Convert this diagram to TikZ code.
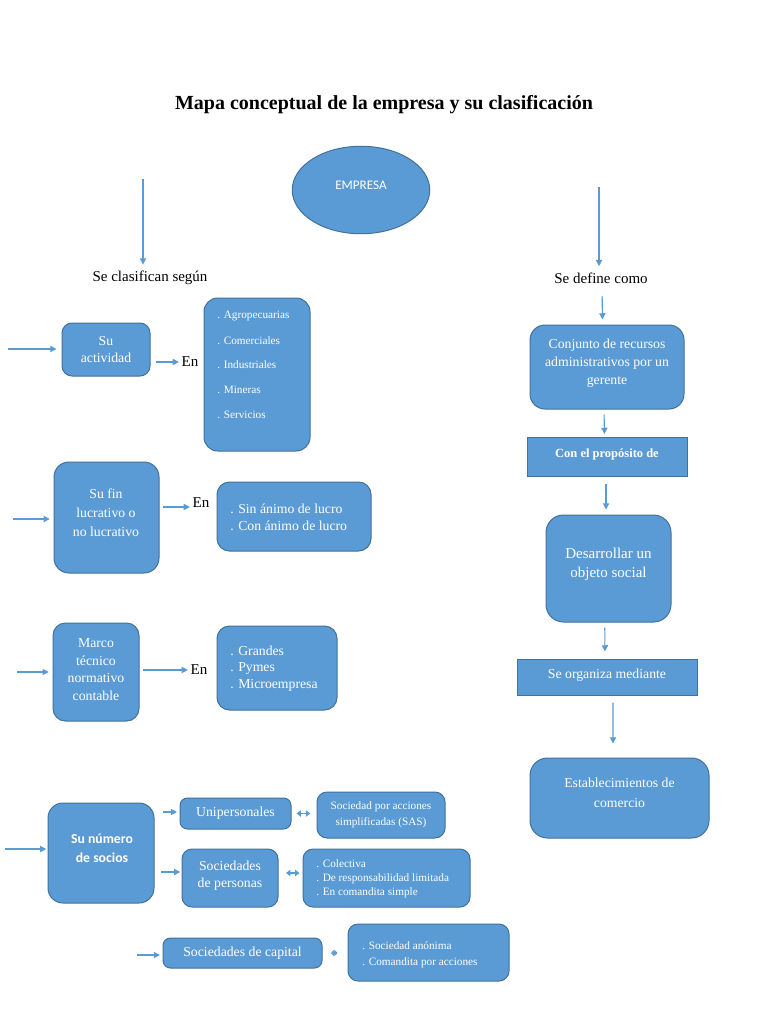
\documentclass[tikz,border=0pt]{standalone}
\usepackage{fontspec}
\setmainfont{Liberation Serif}
\newfontfamily\calfont{Carlito}
\usetikzlibrary{arrows.meta,fit,shapes.geometric}
\definecolor{boxc}{HTML}{5B9BD5}
\definecolor{bordc}{HTML}{41719C}
\definecolor{arrc}{HTML}{5B9BD5}
\begin{document}
\begin{tikzpicture}[x=0.8pt,y=-0.8pt,
 box/.style={draw=bordc, fill=boxc, line width=0.8pt, rounded corners=8pt, inner sep=0pt},
 sqbox/.style={draw=bordc, fill=boxc, line width=0.8pt, inner sep=0pt},
 arr/.style={draw=arrc, line width=0.9pt, -{Triangle[length=5pt,width=5pt]}},
 dbl/.style={draw=arrc, line width=1.4pt, {Triangle[length=3.5pt,width=5pt]}-{Triangle[length=3.5pt,width=5pt]}},
 wt/.style={text=white, inner sep=0pt, align=center},
 bt/.style={text=black, inner sep=0pt},
 f12/.style={font=\fontsize{12}{14}\selectfont},
]
\fill[white] (0,0) rectangle (768,1024);
\useasboundingbox (0,0) rectangle (768,1024);

% title
\node[font=\bfseries\fontsize{16}{19}\selectfont] (title) at (384,105) {Mapa conceptual de la empresa y su clasificación};

% EMPRESA
\node[ellipse, draw=bordc, fill=boxc, line width=0.8pt, minimum width=110pt, minimum height=70pt] (emp) at (361,190) {};
\node[wt, font=\calfont\fontsize{10.5}{12}\selectfont] (empt) at (361,185) {EMPRESA};

% top arrows and labels
\coordinate (l1) at (143,179);
\node[bt, f12] (clas) at (150,278) {Se clasifican según};
\draw[arr, shorten >=5pt] (l1) -- (l1 |- clas.north);
\coordinate (r1) at (599,187);
\node[bt, f12] (def) at (601,278) {Se define como};
\draw[arr, shorten >=5pt] (r1) -- (r1 |- def.north);

% ---------- Su actividad
\node[box, fit={(62,323)(150,376)}] (act) {};
\node[wt, font=\fontsize{11}{13.6}\selectfont] at (106,350) {Su\\actividad};
\coordinate (actin) at (8,349);
\draw[arr, shorten >=4pt] (actin) -- (actin -| act.west);
\node[bt, f12] (en1) at (190,362) {En};
\draw[arr, shorten <=4pt, shorten >=2pt] (act.east |- en1) -- (en1.west);
\node[box, rounded corners=11pt, fit={(204,298)(310,451)}] (lst) {};
\foreach \t/\y in {Agropecuarias/316, Comerciales/341, Industriales/365, Mineras/390, Servicios/415}
  \node[wt, anchor=west, font=\fontsize{9}{11}\selectfont] at (217,\y) {. \t};

% ---------- Su fin lucrativo
\node[box, rounded corners=12pt, fit={(54,462)(159,573)}] (fin) {};
\node[wt, font=\fontsize{11}{15.2}\selectfont] at (106,513) {Su fin\\lucrativo o\\no lucrativo};
\coordinate (finin) at (13,519);
\draw[arr, shorten >=3pt] (finin) -- (finin -| fin.west);
\node[bt, f12] (en2) at (201,503) {En};
\coordinate (finout) at (163,507);
\draw[arr, shorten >=2pt] (finout) -- (finout -| en2.west);
\node[box, rounded corners=10pt, fit={(217,482)(371,551)}] (lucro) {};
\node[wt, anchor=west, align=left, font=\fontsize{11}{13.6}\selectfont] at (230,517.5) {. Sin ánimo de lucro\\. Con ánimo de lucro};

% ---------- Marco
\node[box, rounded corners=10pt, fit={(53,623)(139,721)}] (marco) {};
\node[wt, font=\fontsize{11}{14}\selectfont] at (96,669.5) {Marco\\técnico\\normativo\\contable};
\coordinate (marin) at (17,672);
\draw[arr, shorten >=3pt] (marin) -- (marin -| marco.west);
\node[bt, f12] (en3) at (199,670) {En};
\draw[arr, shorten <=3pt, shorten >=2pt] (marco.east |- en3) -- (en3.west);
\node[box, rounded corners=10pt, fit={(217,626)(337,710)}] (tam) {};
\node[wt, anchor=west, align=left, font=\fontsize{11}{13.2}\selectfont] at (230,668.5) {. Grandes\\. Pymes\\. Microempresa};

% ---------- Su numero de socios
\node[box, rounded corners=12pt, fit={(48,803)(154,903)}] (soc) {};
\node[wt, font=\calfont\bfseries\fontsize{11}{15.2}\selectfont] at (102,848) {Su número\\de socios};
\coordinate (socin) at (5,849);
\draw[arr, shorten >=1pt] (socin) -- (socin -| soc.west);

\node[box, rounded corners=6pt, fit={(180,798)(291,829)}] (uni) {};
\node[wt, font=\fontsize{11}{13}\selectfont] at (235.5,813) {Unipersonales};
\coordinate (uniin) at (163,812);
\draw[arr, shorten >=2pt] (uniin) -- (uniin -| uni.west);
\node[box, rounded corners=8pt, fit={(317,792)(445,838)}] (sas) {};
\node[wt, font=\fontsize{9}{12.8}\selectfont] at (381,815) {Sociedad por acciones\\simplificadas (SAS)};
\draw[dbl, shorten <=4pt, shorten >=5pt] (uni.east) -- (uni.east -| sas.west);

\node[box, rounded corners=8pt, fit={(182,849)(278,907)}] (sdp) {};
\node[wt, font=\fontsize{11}{13.6}\selectfont] at (230,875.5) {Sociedades\\de personas};
\coordinate (sdpin) at (161,872);
\draw[arr, shorten >=1pt] (sdpin) -- (sdpin -| sdp.west);
\node[box, rounded corners=8pt, fit={(303,849)(470,907)}] (pers) {};
\node[wt, anchor=west, align=left, font=\fontsize{9}{11.2}\selectfont] at (316,879) {. Colectiva\\. De responsabilidad limitada\\. En comandita simple};
\coordinate (sdpout) at (278,873);
\draw[dbl, shorten <=6.4pt, shorten >=2.4pt] (sdpout) -- (sdpout -| pers.west);

\node[box, rounded corners=6pt, fit={(163,938)(322,968)}] (cap) {};
\node[wt, font=\fontsize{11}{13}\selectfont] at (242.5,953.5) {Sociedades de capital};
\coordinate (capin) at (137,955);
\draw[arr, shorten >=2pt] (capin) -- (capin -| cap.west);
\node[box, rounded corners=8pt, fit={(348,924)(509,981)}] (capl) {};
\node[wt, anchor=west, align=left, font=\fontsize{9}{12.8}\selectfont] at (362,955) {. Sociedad anónima\\. Comandita por acciones};
\coordinate (capout) at (322,953);
\draw[draw=arrc, line width=1.4pt, {Triangle[length=2.5pt,width=5pt]}-{Triangle[length=2.5pt,width=5pt]}, shorten <=7.2pt, shorten >=8pt] (capout) -- (capout -| capl.west);

% ---------- right column
\node[box, rounded corners=12pt, fit={(530,325)(684,409)}] (conj) {};
\node[wt, font=\fontsize{11}{14.4}\selectfont] at (607,363) {Conjunto de recursos\\administrativos por un\\gerente};
\draw[arr, shorten <=10pt, shorten >=4pt] ([xshift=0.8pt]def.south) -- ([xshift=-3.6pt]conj.north);

\node[sqbox, fit={(527,437)(687,476)}] (prop) {};
\node[wt, font=\bfseries\fontsize{10}{12}\selectfont] at (607,454) {Con el propósito de};
\draw[arr, shorten <=4pt, shorten >=2pt] ([xshift=-2.4pt]conj.south) -- ([xshift=-2pt]prop.north);

\node[box, rounded corners=14pt, fit={(546,515)(671,622)}] (des) {};
\node[wt, font=\fontsize{12}{15.2}\selectfont] at (608.5,564.5) {Desarrollar un\\objeto social};
\draw[arr, shorten <=5.6pt, shorten >=4pt] ([xshift=-0.8pt]prop.south) -- ([xshift=-2pt]des.north);

\node[sqbox, fit={(517,659)(697,695)}] (org) {};
\node[wt, font=\fontsize{11}{13}\selectfont] at (607,675) {Se organiza mediante};
\draw[arr, shorten <=4pt, shorten >=5.6pt] ([xshift=-3pt]des.south) -- ([xshift=-1.6pt]org.north);

\node[box, rounded corners=14pt, fit={(530,758)(709,838)}] (est) {};
\node[wt, font=\fontsize{11}{15.6}\selectfont] at (619.5,793) {Establecimientos de\\comercio};
\draw[arr, shorten <=5.6pt, shorten >=11.2pt] ([xshift=4.8pt]org.south) -- ([xshift=-5.2pt]est.north);
\end{tikzpicture}
\end{document}
